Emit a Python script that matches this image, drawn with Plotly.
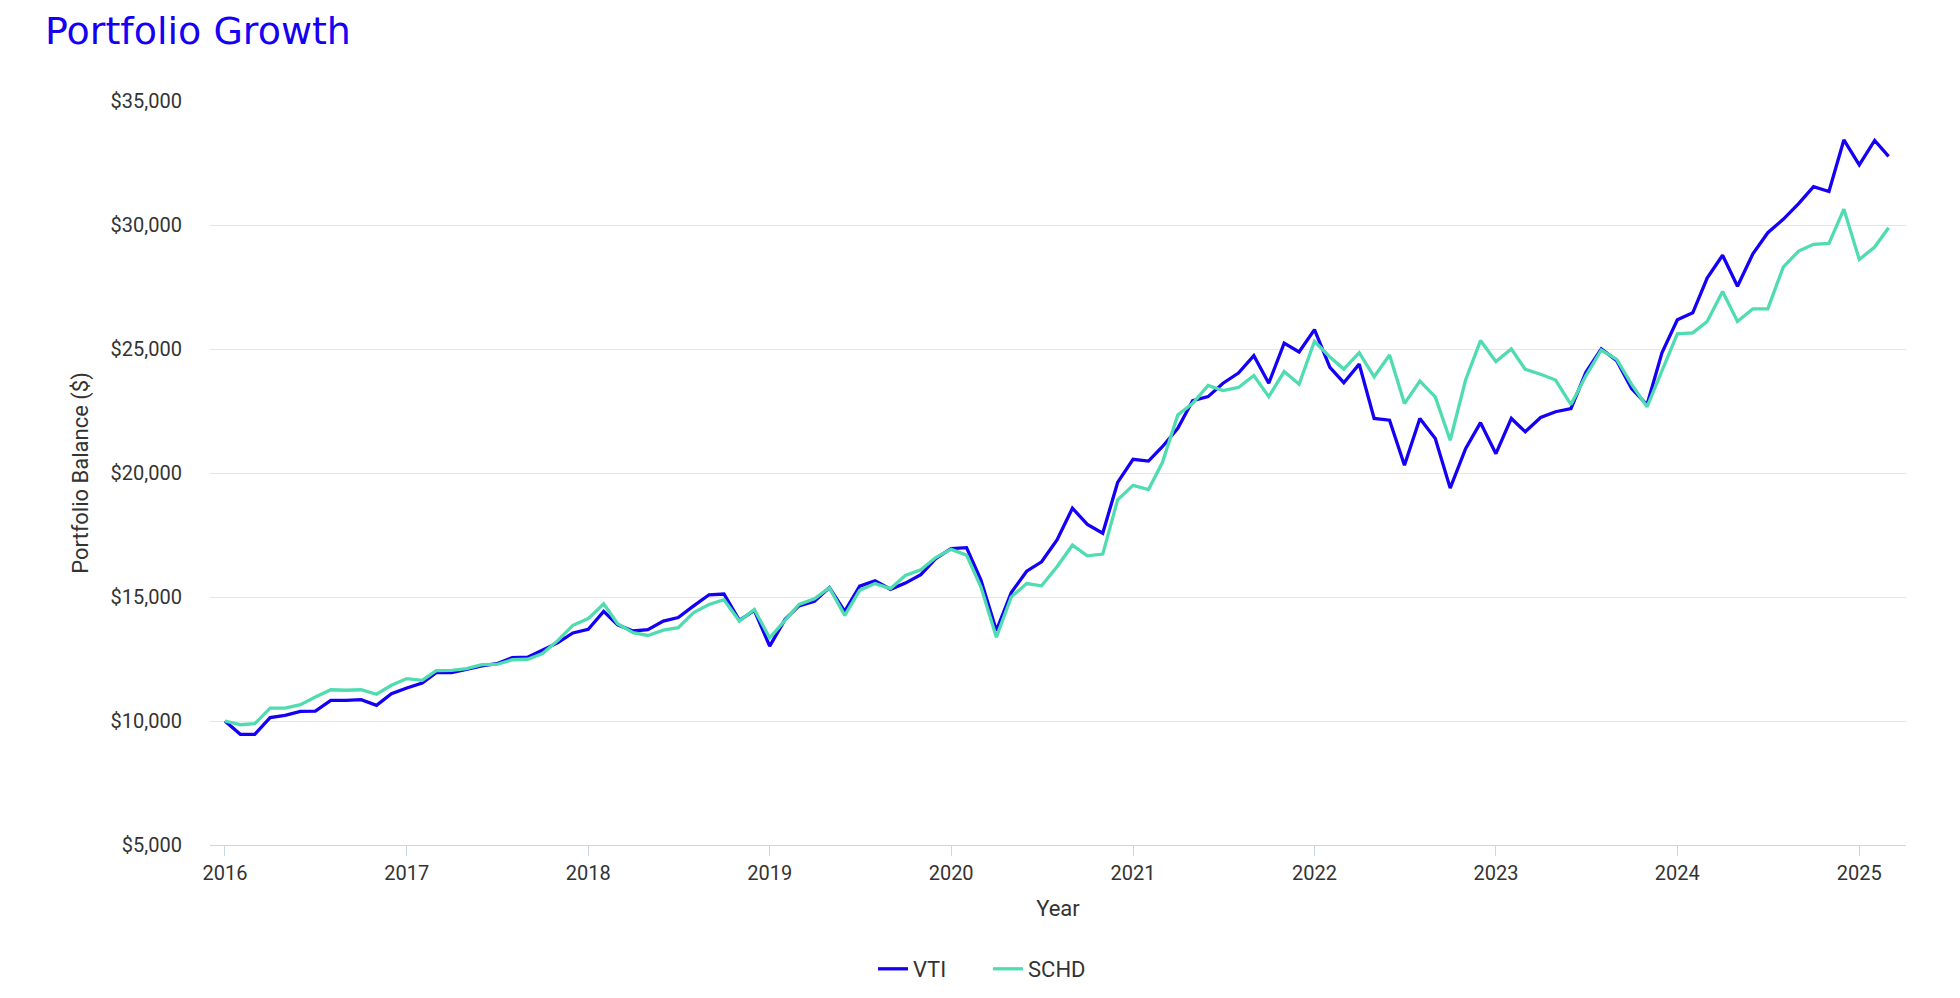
import pandas as pd
import plotly.graph_objects as go

start_month = "2016-01-01"

vti = [
    10000, 9462, 9460, 10135, 10230, 10390, 10400, 10830, 10830, 10860, 10630, 11100,
    11330, 11530, 11950, 11950, 12080, 12220, 12310, 12550, 12570, 12850, 13160, 13550,
    13700, 14420, 13880, 13630, 13680, 14030, 14170, 14640, 15090, 15120, 14060, 14460,
    13020, 14100, 14640, 14830, 15380, 14420, 15440, 15650, 15310, 15560, 15900, 16550,
    16950, 16990, 15680, 13650, 15180, 16040, 16420, 17300, 18580, 17930, 17570, 19620,
    20550, 20480, 21060, 21800, 22920, 23080, 23620, 24030, 24730, 23620, 25240, 24880,
    25780, 24260, 23640, 24390, 22200, 22130, 20310, 22200, 21390, 19390, 20980, 22030,
    20780, 22200, 21660, 22240, 22470, 22600, 24060, 25000, 24530, 23410, 22750, 24850,
    26180, 26460, 27860, 28780, 27530, 28840, 29690, 30230, 30860, 31550, 31350, 33430,
    32420, 33410, 32770,
]

schd = [
    10000, 9850, 9890, 10520, 10520, 10660, 10970, 11260, 11240, 11260, 11080, 11440,
    11710, 11640, 12030, 12040, 12110, 12270, 12280, 12470, 12490, 12720, 13250, 13860,
    14130, 14730, 13920, 13560, 13450, 13660, 13760, 14370, 14700, 14890, 14030, 14500,
    13350, 14060, 14700, 14930, 15380, 14260, 15270, 15540, 15340, 15870, 16100, 16590,
    16920, 16690, 15400, 13380, 15000, 15540, 15450, 16220, 17090, 16660, 16730, 18920,
    19500, 19330, 20420, 22340, 22810, 23530, 23320, 23450, 23930, 23080, 24090, 23580,
    25310, 24680, 24190, 24850, 23880, 24760, 22800, 23710, 23070, 21320, 23750, 25340,
    24490, 25000, 24180, 23980, 23750, 22760, 23920, 24960, 24580, 23570, 22670, 24120,
    25610, 25650, 26110, 27320, 26110, 26620, 26620, 28300, 28950, 29220, 29260, 30640,
    28610, 29110, 29890,
]

series_names = ["VTI", "SCHD"]
series_colors = ["#1500f5", "#4fdcb0"]

dates = pd.date_range(start_month, periods=len(vti), freq="MS")

fig = go.Figure()
for name, vals, col in zip(series_names, [vti, schd], series_colors):
    fig.add_trace(go.Scatter(
        x=dates, y=vals, mode="lines", name=name,
        line=dict(color=col, width=3.3),
    ))

W, H = 1960, 998
OFF = 8  # page body margin
ml, mr, mt, mb = 210 - OFF, 54 + OFF, 101 - OFF, 153 + OFF

fig.update_layout(
    width=W, height=H,
    margin=dict(l=ml, r=mr, t=mt, b=mb, autoexpand=False),
    paper_bgcolor="white", plot_bgcolor="white",
    font=dict(family="Roboto, sans-serif", size=20, color="#333333"),
    title=dict(
        text="Portfolio Growth",
        font=dict(family="DejaVu Sans, sans-serif", size=38, color="#1500f5"),
        xref="container", yref="container",
        x=(45 - OFF) / W, xanchor="left",
        y=1 - (31 - OFF) / H, yanchor="middle",
    ),
    showlegend=True,
    legend=dict(
        orientation="h",
        xref="container", yref="container",
        x=0.5, xanchor="center",
        y=1 - (969 - OFF) / H, yanchor="middle",
        font=dict(size=22, color="#333333"),
        entrywidth=70, entrywidthmode="pixels",
    ),
    xaxis=dict(
        type="date",
        range=["2015-12-02", "2025-04-05"],
        dtick="M12", tick0="2016-01-01", tickformat="%Y",
        showgrid=False, zeroline=False,
        showline=True, linecolor="#ccd6eb", linewidth=1,
        ticks="outside", ticklen=10, tickcolor="#ccd6eb", tickwidth=1,
        tickfont=dict(size=20, color="#333333"),
        title=dict(text="Year", font=dict(size=22, color="#333333"), standoff=16),
    ),
    yaxis=dict(
        range=[5000, 35000],
        dtick=5000, tickformat="$,.0f",
        showgrid=True, gridcolor="#e6e6e6", gridwidth=1,
        zeroline=False, showline=False,
        ticks="", ticklabelstandoff=27,
        tickfont=dict(size=20, color="#333333"),
        title=dict(text="Portfolio Balance ($)", font=dict(size=22, color="#333333"), standoff=15),
    ),
)

fig.write_html("out.html")
